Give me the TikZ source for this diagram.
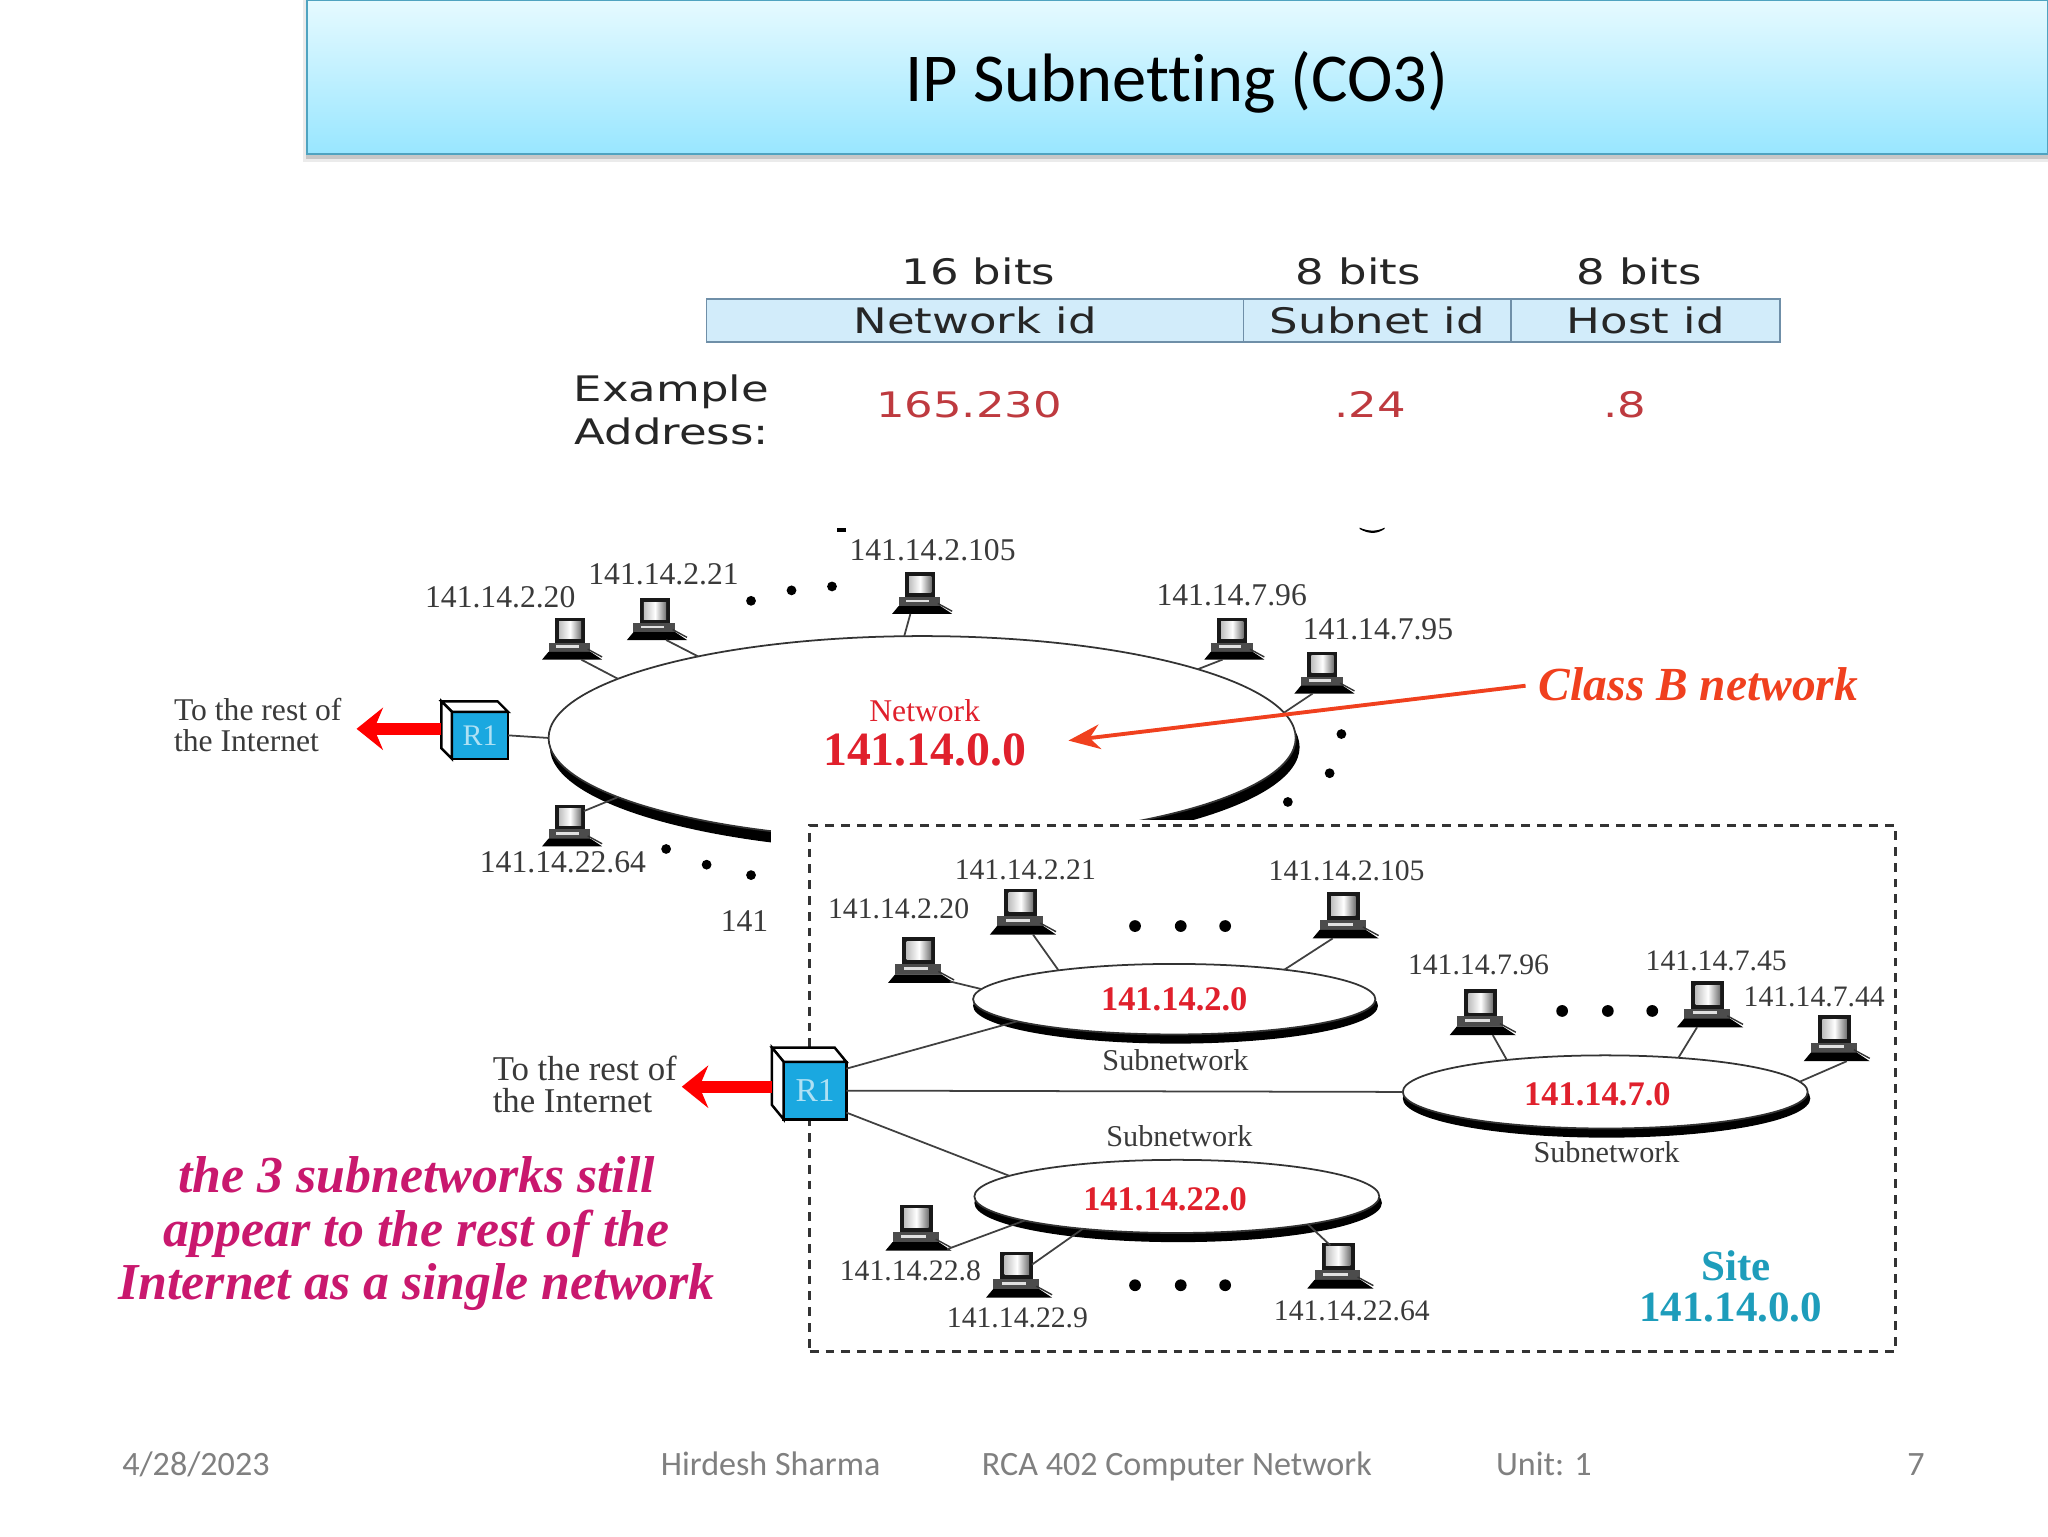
\documentclass[tikz,border=0pt]{standalone}
\usepackage{fontspec}
\setmainfont{Liberation Serif}
\newfontfamily\carlitofont[Ligatures=NoCommon]{Carlito}
\newfontfamily\dejafont[FakeStretch=1.28]{DejaVu Sans}
\usetikzlibrary{shapes.geometric,arrows.meta,shadows}
\definecolor{titletop}{HTML}{E6FAFF}
\definecolor{titlebot}{HTML}{98E6FF}
\definecolor{titleedge}{HTML}{4FA3C0}
\definecolor{cellblue}{HTML}{D2ECFA}
\definecolor{celledge}{HTML}{6F8FA8}
\definecolor{darkred}{HTML}{BE3A3F}
\definecolor{netred}{HTML}{E0202C}
\definecolor{classred}{HTML}{F0401E}
\definecolor{magentatxt}{HTML}{C9186E}
\definecolor{tealtxt}{HTML}{1E9DBB}
\definecolor{cubeblue}{HTML}{1AA8E0}
\definecolor{labelgray}{HTML}{3A3A3A}
\definecolor{footgray}{HTML}{808080}
\newcommand\uu{0.02612cm}
\tikzset{
 x=\uu, y=-\uu,
 ip/.style={text=labelgray,inner sep=0pt,font=\fontsize{18}{20}\selectfont},
 ipb/.style={text=labelgray,inner sep=0pt,font=\fontsize{16.9}{19}\selectfont},
 subtxt/.style={text=labelgray,inner sep=0pt,font=\fontsize{17.2}{19}\selectfont},
 resttxt/.style={text=labelgray,inner sep=0pt,align=left,anchor=west,font=\fontsize{18}{20}\selectfont},
 resttxtb/.style={text=labelgray,inner sep=0pt,align=left,anchor=west,font=\fontsize{19.8}{21}\selectfont},
 netlab/.style={text=netred,inner sep=0pt,font=\bfseries\fontsize{19.6}{22}\selectfont},
 head/.style={inner sep=0pt,text=black!85,font=\dejafont\fontsize{20}{23}\selectfont},
 addr/.style={inner sep=0pt,text=darkred,font=\dejafont\fontsize{20}{23}\selectfont},
 cellbox/.style={draw=celledge,line width=0.9pt,fill=cellblue,inner sep=0pt,minimum height=33*\uu,text=black!85,font=\dejafont\fontsize{20}{23}\selectfont},
 foot/.style={inner sep=0pt,anchor=base,text=footgray,font=\carlitofont\fontsize{19.4}{22}\selectfont},
 mag/.style={inner sep=0pt,anchor=base,text=magentatxt,font=\bfseries\itshape\fontsize{29.5}{32}\selectfont},
 wire/.style={draw=black!75,line width=1pt},
 blob/.style={circle,fill=black,inner sep=0pt,minimum size=7.5*\uu},
 blobb/.style={circle,fill=black,inner sep=0pt,minimum size=9*\uu},
 whiteell/.style={ellipse,draw=black!80,fill=white,line width=1pt,inner sep=0pt,outer sep=0pt},
 blackell/.style={ellipse,fill=black,inner sep=0pt,outer sep=0pt},
 cubefront/.style={rectangle,draw=black,line width=1.5pt,fill=cubeblue,inner sep=0pt,outer sep=0pt,text=cubeblue!35!white},
 redarrow/.style={draw=red,line width=7pt,-{Stealth[length=15pt,width=24pt,inset=5pt]}},
 pc/.pic={
   \coordinate (-s) at (9,15);
   \coordinate (-sw) at (-7,15);
   \coordinate (-e) at (22,14);
   \coordinate (-n) at (11,-12);
   \coordinate (-ne) at (11,-8);
   \coordinate (-nw) at (-5,-15);
   \fill[black!90] (-11,-17) rectangle (12,2);
   \shade[left color=black!25,right color=black!55,middle color=white] (-8,-14) rectangle (9,-1);
   \fill[black!70] (-16,2) rectangle (16,9);
   \fill[black!12] (-10,4) rectangle (7,6);
   \fill[black] (-16,9) -- (16,9) -- (25,15) -- (-21,15) -- cycle;
   \draw[black!80,line width=0.8pt] (14,7) -- (25,13);
 },
}
\begin{document}
\begin{tikzpicture}
\useasboundingbox (0,0) rectangle (1568,1176);
\fill[white] (0,0) rectangle (1568,1176);

% title
\fill[black!8] (232,0) rectangle (1568,124);
\fill[black!22] (234,0) rectangle (1568,122);
\node (titlebox) [draw=titleedge,line width=1.2pt,top color=titletop,bottom color=titlebot,minimum width=1333*\uu,minimum height=118*\uu,inner sep=0pt,outer sep=0pt,anchor=north west] at (235,0) {};
\node (title) [inner sep=0pt,font=\carlitofont\fontsize{39}{44}\selectfont] at (901,63) {IP Subnetting (CO3)};

% bit table
\node (h1) [head] at (749,208) {16 bits};
\node (h2) [head] at (1040,208) {8 bits};
\node (h3) [head] at (1255,208) {8 bits};
\node (c1) [cellbox,minimum width=411*\uu] at (746.5,245.5) {Network id};
\node (c2) [cellbox,minimum width=205*\uu] at (1054.5,245.5) {Subnet id};
\node (c3) [cellbox,minimum width=206*\uu] at (1260,245.5) {Host id};
\node (ex1) [head,anchor=east] at (589,300) {Example};
\node (ex2) [head,anchor=east] at (589,330) {Address:};
\node (a1) [addr] at (742,310) {165.230};
\node (a2) [addr] at (1049,310) {.24};
\node (a3) [addr] at (1244,310) {.8};

% top network
\node (netshadow) [blackell,minimum width=574*\uu,minimum height=160*\uu] at (708,572) {};
\coordinate (netc) at (706,565);
\node (net) [whiteell,minimum width=572*\uu,minimum height=156*\uu] at (netc) {};
\pic (p1) at (436,490) {pc};
\pic (p2) at (501,475) {pc};
\pic (p3) at (704,455) {pc};
\pic (p4) at (943,490) {pc};
\pic (p5) at (1012,516) {pc};
\pic (p6) at (436,633) {pc};
\draw[wire] (p1-s) -- (net.169);
\draw[wire] (p2-s) -- (net.160);
\draw[wire] (p3-sw) -- (net.100);
\draw[wire] (p4-sw) -- (net.14);
\draw[wire] (p5-sw) -- (net.4);
\draw[wire] (p6-n) -- (net.191);
\node (i1) [ip] at (383,457) {141.14.2.20};
\node (i2) [ip] at (508,440) {141.14.2.21};
\node (i3) [ip] at (714,421) {141.14.2.105};
\node (i4) [ip] at (943,456) {141.14.7.96};
\node (i5) [ip] at (1055,482) {141.14.7.95};
\node (i6) [ip] at (431,660) {141.14.22.64};
\node (i7) [ip] at (570,705) {141};
\node (d1) [blob] at (575,460) {};
\node (d2) [blob] at (606,452) {};
\node (d3) [blob] at (637,449) {};
\node (d4) [blob] at (1027,562) {};
\node (d5) [blob] at (1018,592) {};
\node (d6) [blob] at (986,614) {};
\node (d7) [blob] at (510,650) {};
\node (d8) [blob] at (541,662) {};
\node (d9) [blob] at (575,670) {};
\fill (641,404) rectangle (648,407);
\fill (1041,405) .. controls (1048,409) and (1054,409) .. (1060,405) -- (1060,404) .. controls (1054,407) and (1048,407) .. (1041,404) -- cycle;
\node (netname) [inner sep=0pt,text=netred,font=\fontsize{18}{20}\selectfont] at (708,544) {Network};
\node (netaddr) [inner sep=0pt,text=netred,font=\bfseries\fontsize{27.2}{30}\selectfont] at (708,574) {141.14.0.0};

% router 1
\node (r1) [cubefront,minimum width=43*\uu,minimum height=36*\uu,font=\fontsize{17}{19}\selectfont] at (367.5,563) {R1};
\draw[line width=1.4pt,fill=white] (r1.north west) -- ++(-8,-8) -- ++(43,0) -- (r1.north east) -- cycle;
\draw[line width=1.4pt,fill=white] (r1.north west) -- ++(-8,-8) -- ++(0,36) -- (r1.south west) -- cycle;
\draw[wire] (r1.east) -- (net.180);
\coordinate (o1) at (273,558);
\draw[redarrow] (r1.west) ++(-8,-5) -- (o1);
\node (rest1) [resttxt] at (133,543) {To the rest of};
\node (rest1b) [resttxt] at (133,567) {the Internet};

% class B label
\node (classb) [inner sep=0pt,anchor=west,text=classred,font=\bfseries\itshape\fontsize{27}{30}\selectfont] at (1178,524) {Class B network};
\coordinate (classt) at (818,567);
\draw[classred,line width=2.2pt,-{Stealth[length=18pt,width=14pt]}] (classb.west) ++(-10,1) -- (classt);

% site panel
\fill[white] (590,628) rectangle (1453,1038);
\node (site) [draw=black!80,line width=1.6pt,dash pattern=on 5pt off 4pt,fill=white,minimum width=831*\uu,minimum height=403*\uu,inner sep=0pt,outer sep=0pt] at (1035.5,833.5) {};

% subnets
\node (s1sh) [blackell,minimum width=310*\uu,minimum height=58*\uu] at (900,770) {};
\node (s1) [whiteell,minimum width=308*\uu,minimum height=54*\uu] at (899,765) {};
\node (s2sh) [blackell,minimum width=312*\uu,minimum height=60*\uu] at (1230,841) {};
\node (s2) [whiteell,minimum width=310*\uu,minimum height=56*\uu] at (1229,836) {};
\node (s3sh) [blackell,minimum width=312*\uu,minimum height=60*\uu] at (902,921) {};
\node (s3) [whiteell,minimum width=310*\uu,minimum height=56*\uu] at (901,916) {};

\pic[scale=1.1] (q1) at (703,736) {pc};
\pic[scale=1.1] (q2) at (781,699) {pc};
\pic[scale=1.1] (q3) at (1028,702) {pc};
\pic[scale=1.1] (q4) at (1133,776) {pc};
\pic[scale=1.1] (q5) at (1307,770) {pc};
\pic[scale=1.1] (q6) at (1404,796) {pc};
\pic[scale=1.1] (q7) at (701,941) {pc};
\pic[scale=1.1] (q8) at (778,977) {pc};
\pic[scale=1.1] (q9) at (1024,970) {pc};
\draw[wire] (q1-e) -- (s1.177);
\draw[wire] (q2-s) -- (s1.166);
\draw[wire] (q3-sw) -- (s1.15);
\draw[wire] (q4-s) -- (s2.162);
\draw[wire] (q5-sw) -- (s2.25);
\draw[wire] (q6-s) -- (s2.3);
\draw[wire] (q7-e) -- (s3.189);
\draw[wire] (q8-ne) -- (s3.199);
\draw[wire] (q9-nw) -- (s3.348);

\node (j1) [ipb] at (688,696) {141.14.2.20};
\node (j2) [ipb] at (785,666) {141.14.2.21};
\node (j3) [ipb] at (1031,667) {141.14.2.105};
\node (j4) [ipb] at (1132,739) {141.14.7.96};
\node (j5) [ipb] at (1314,736) {141.14.7.45};
\node (j6) [ipb] at (1389,763) {141.14.7.44};
\node (j7) [ipb] at (697,973) {141.14.22.8};
\node (j8) [ipb] at (779,1009) {141.14.22.9};
\node (j9) [ipb] at (1035,1004) {141.14.22.64};
\node (la1) [netlab] at (899,765) {141.14.2.0};
\node (la2) [netlab] at (1223,838) {141.14.7.0};
\node (la3) [netlab] at (892,918) {141.14.22.0};
\node (su1) [subtxt] at (900,812) {Subnetwork};
\node (su2) [subtxt] at (903,870) {Subnetwork};
\node (su3) [subtxt] at (1230,882) {Subnetwork};
\node (e1) [blobb] at (869,709) {};
\node (e2) [blobb] at (904,709) {};
\node (e3) [blobb] at (938,709) {};
\node (e4) [blobb] at (1196,774) {};
\node (e5) [blobb] at (1231,774) {};
\node (e6) [blobb] at (1265,774) {};
\node (e7) [blobb] at (869,984) {};
\node (e8) [blobb] at (904,984) {};
\node (e9) [blobb] at (938,984) {};
\node (st1) [inner sep=0pt,text=tealtxt,font=\bfseries\fontsize{24.5}{26}\selectfont] at (1329,969) {Site};
\node (st2) [inner sep=0pt,text=tealtxt,font=\bfseries\fontsize{24.5}{26}\selectfont] at (1325,1001) {141.14.0.0};

% router 2
\node (r2) [cubefront,minimum width=48*\uu,minimum height=44*\uu,font=\fontsize{19}{21}\selectfont] at (624,835) {R1};
\draw[line width=1.4pt,fill=white] (r2.north west) -- ++(-9,-11) -- ++(48,0) -- (r2.north east) -- cycle;
\draw[line width=1.4pt,fill=white] (r2.north west) -- ++(-9,-11) -- ++(0,44) -- (r2.south west) -- cycle;
\draw[wire] (r2.35) -- (s1.188);
\draw[wire] (r2.east) -- (s2.west);
\draw[wire] (r2.325) -- (s3.173);
\coordinate (o2) at (522,832);
\draw[redarrow] (r2.west) ++(-9,-3) -- (o2);
\node (rest2) [resttxtb] at (377,818) {To the rest of};
\node (rest2b) [resttxtb] at (377,843) {the Internet};

% magenta note
\node (m1) [mag] at (319,913) {the 3 subnetworks still};
\node (m2) [mag] at (319,954) {appear to the rest of the};
\node (m3) [mag] at (319,995) {Internet as a single network};

% footer
\node (f1) [foot] at (150,1130) {4/28/2023};
\node (f2) [foot] at (590,1130) {Hirdesh Sharma};
\node (f3) [foot] at (901,1130) {RCA 402 Computer Network};
\node (f4) [foot] at (1182,1130) {Unit: 1};
\node (f5) [foot] at (1467,1130) {7};
\end{tikzpicture}
\end{document}
